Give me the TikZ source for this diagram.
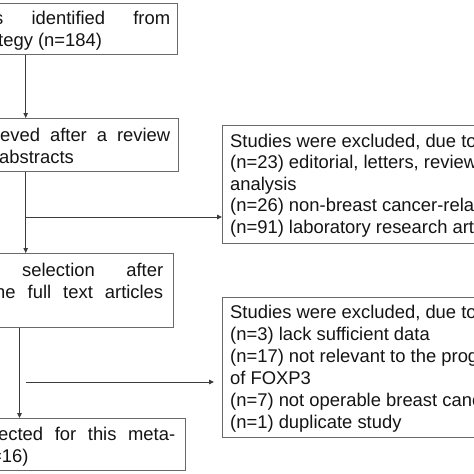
\documentclass[tikz,border=0pt]{standalone}
\usepackage{fontspec}
\setmainfont{Liberation Sans}
\usetikzlibrary{arrows.meta}
\definecolor{boxgray}{HTML}{6A6A6A}
\definecolor{linegray}{HTML}{3C3C3C}
\definecolor{inkblack}{HTML}{141414}
\tikzset{
  box/.style={draw=boxgray, line width=1.1pt, inner sep=0pt, anchor=north west},
  txt/.style={inner sep=0pt, anchor=base west, text=inkblack},
  link/.style={draw=linegray, line width=0.9pt, -{Triangle[length=5pt,width=4.5pt]}},
}
\begin{document}
\begin{tikzpicture}[x=1pt, y=-1pt, font=\fontsize{18.4}{21.6}\selectfont]
        \useasboundingbox (0,0) rectangle (474,474);
        \clip (0,0) rectangle (474,474);
        \fill[white] (0,0) rectangle (474,474);
        % boxes on the left, cut by the frame
        \node[box, minimum width=327pt, minimum height=51pt] (search) at (-150,2.5) {};
        \node[box, minimum width=328pt, minimum height=53pt] (screened) at (-150,118) {};
        \node[box, minimum width=323pt, minimum height=74pt] (fulltext) at (-150,253) {};
        \node[box, minimum width=335pt, minimum height=52pt] (included) at (-150,418) {};
        % boxes on the right
        \node[box, minimum width=400pt, minimum height=118pt] (excla) at (222,125) {};
        \node[box, minimum width=400pt, minimum height=140pt] (exclb) at (222,297) {};
        % texts of the left boxes
        \node[txt] (searcha) at (-6,24.5) {\makebox[176pt][s]{s identified from}};
        \node[txt] (searchb) at (-2,46) {tegy (n=184)};
        \node[txt] (screeneda) at (0,141) {\makebox[170pt][s]{eved after a review}};
        \node[txt] (screenedb) at (-1,163) {abstracts};
        \node[txt] (fulltexta) at (22,276) {\makebox[141pt][s]{selection after}};
        \node[txt] (fulltextb) at (-5,298) {\makebox[168pt][s]{he full text articles}};
        \node[txt] (includeda) at (-2,440) {\makebox[177pt][s]{ected for this meta-}};
        \node[txt] (includedb) at (-9,462) {=16)};
        % texts of the right boxes (placed by the last line)
        \node[txt, align=left] (exclatext) at (230,233.4) {Studies were excluded, due to\\
          (n=23) editorial, letters, review\\
          analysis\\
          (n=26) non-breast cancer-rela\\
          (n=91) laboratory research art};
        \node[txt, align=left, font=\fontsize{18.4}{22}\selectfont] (exclbtext) at (230,428) {Studies were excluded, due to\\
          (n=3) lack sufficient data\\
          (n=17) not relevant to the prog\\
          of FOXP3\\
          (n=7) not operable breast canc\\
          (n=1) duplicate study};
        % connectors
        \coordinate (axa) at (25.7,0);
        \coordinate (axb) at (19.5,0);
        \coordinate (branchA) at (25.7,217);
        \coordinate (branchB) at (25.5,382);
        \draw[link] (search.south -| axa) -- (screened.north -| axa);
        \draw[link] (screened.south -| axa) -- (fulltext.north -| axa);
        \draw[link] (branchA) -- (branchA -| excla.west);
        \draw[link] (fulltext.south -| axb) -- (included.north -| axb);
        \draw[link, shorten >=8pt] (branchB) -- (branchB -| exclb.west);
    \end{tikzpicture}
\end{document}
